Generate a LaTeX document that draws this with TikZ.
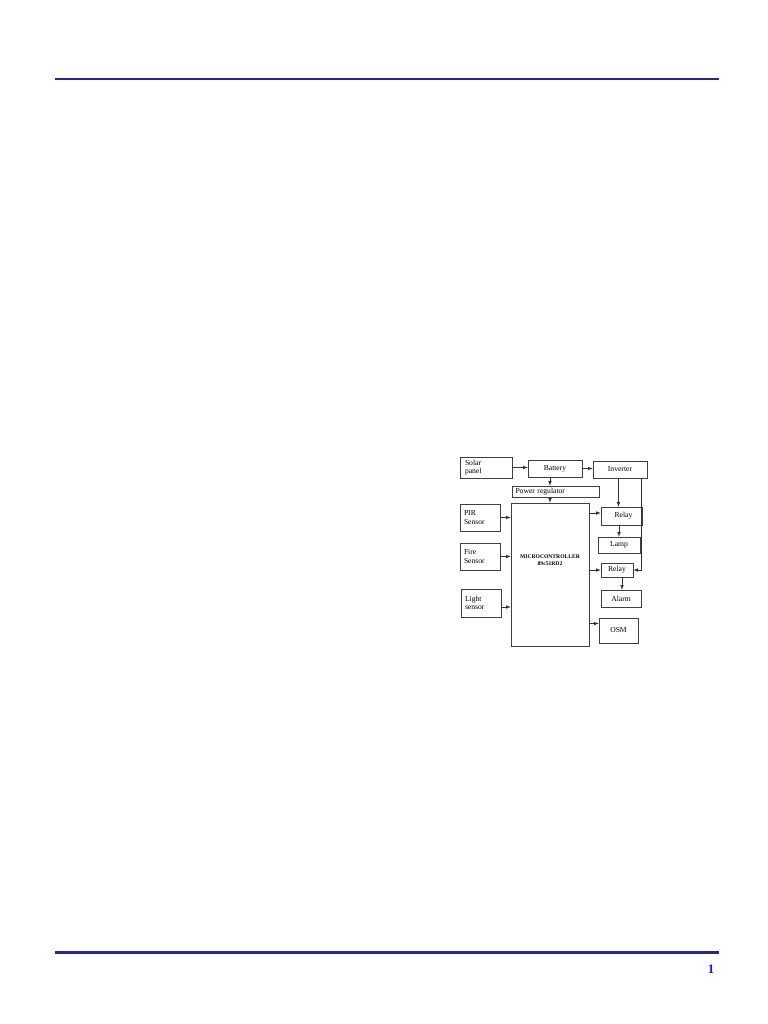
\documentclass[tikz,border=0pt]{standalone}
\usepackage{fontspec}
\setmainfont{Liberation Serif}
\usetikzlibrary{arrows, positioning}

\newlength\px
\setlength\px{0.03cm}
\definecolor{rulecolor}{RGB}{38,38,150}
\definecolor{numcolor}{RGB}{25,25,230}

\begin{document}
\begin{tikzpicture}[>=latex, x=0.03cm, y=-0.03cm,
  blk/.style={draw=black!75, rectangle, inner sep=1pt, font=\fontsize{6.5}{7.2}\selectfont},
  sensor/.style={blk, minimum width=40\px, minimum height=27\px, text width=32\px, align=left},
  wire/.style={draw=black!80, line width=0.4pt}]
\useasboundingbox (0,0) rectangle (768,1024);

% page rules
\draw[rulecolor, line width=2\px] (55,79) -- (719,79);
\draw[rulecolor, line width=3\px] (55,952) -- (719,952);
\node[text=numcolor, font=\bfseries\fontsize{11}{12}\selectfont] (pagenum) at (711,969) {1};

% power chain
\node[blk, minimum width=52\px, minimum height=21\px, text width=42\px, align=left] (solar) at (486,467.5) {Solar\\panel};
\node[blk, minimum width=54\px, minimum height=17\px] (battery) at (555,468.5) {Battery};
\node[blk, minimum width=54\px, minimum height=17\px] (inverter) at (620,469.5) {Inverter};
\node[blk, minimum width=87\px, minimum height=11\px, text width=80\px, align=left] (preg) at (555.5,491.5) {Power regulator};

% controller
\node[blk, minimum width=78\px, minimum height=143\px] (micro) at (550,574.5) {};
\node[font=\bfseries\fontsize{4.8}{5.6}\selectfont, align=center, inner sep=0pt] (microtxt) at (550,560) {MICROCONTROLLER\\89c51RD2};

% sensors
\node[sensor] (pir) at (480,517.5) {PIR\\Sensor};
\node[sensor] (fire) at (480,556.5) {Fire\\Sensor};
\node[sensor, minimum height=28\px] (light) at (481,603) {Light\\sensor};

% outputs
\node[blk, minimum width=41\px, minimum height=18\px] (relay1) at (621.5,516) {\hspace{4\px}Relay};
\node[blk, minimum width=42\px, minimum height=16\px] (lamp) at (619,545) {Lamp};
\node[blk, minimum width=32\px, minimum height=14\px] (relay2) at (617,570) {Relay};
\node[blk, minimum width=40\px, minimum height=17\px] (alarm) at (621,598.5) {Alarm};
\node[blk, minimum width=39\px, minimum height=25\px] (osm) at (618.5,630.5) {OSM};

\draw[wire, ->] (solar.east) -- (solar.east -| battery.west);
\draw[wire, ->] (battery.east) -- (battery.east -| inverter.west);
\draw[wire, ->] ([xshift=-5\px]battery.south) -- ([xshift=-5\px]battery.south |- preg.north);
\draw[wire, ->] (preg.south -| micro) -- (micro.north);
\draw[wire, ->] ([xshift=-3\px]inverter.south -| relay1) -- ([xshift=-3\px]relay1.north);
\draw[wire, ->] ([xshift=21\px]inverter.south) |- (relay2.east);

\draw[wire, ->] (pir.east) -- (pir.east -| micro.west);
\draw[wire, ->] (fire.east) -- (fire.east -| micro.west);
\draw[wire, ->] ([yshift=-4\px]light.east) -- ([yshift=-4\px]light.east -| micro.west);

\draw[wire, ->] ([yshift=3\px]micro.east |- relay1) -- ([yshift=3\px]relay1.west);
\draw[wire, ->] (relay1.south -| lamp) -- (lamp.north);
\draw[wire, ->] (micro.east |- relay2) -- (relay2.west);
\draw[wire, ->] ([xshift=5\px]relay2.south) -- ([xshift=5\px]relay2.south |- alarm.north);
\draw[wire, ->] ([yshift=7\px]micro.east |- osm) -- ([yshift=7\px]osm.west);
\end{tikzpicture}
\end{document}
